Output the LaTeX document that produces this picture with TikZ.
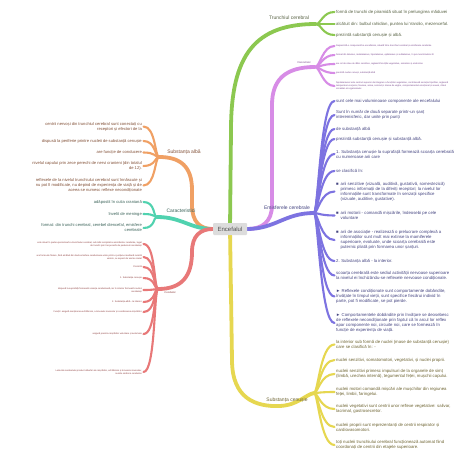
\documentclass[tikz,border=0pt]{standalone}
\usepackage{fontspec}
\setmainfont{Liberation Sans}
\definecolor{cG}{RGB}{140,200,80}
\definecolor{cO}{RGB}{215,140,230}
\definecolor{cB}{RGB}{125,115,225}
\definecolor{cY}{RGB}{230,215,80}
\definecolor{cA}{RGB}{240,160,100}
\definecolor{cT}{RGB}{80,210,175}
\definecolor{cR}{RGB}{232,120,120}
\definecolor{tG}{RGB}{90,100,70}
\definecolor{tO}{RGB}{120,70,140}
\definecolor{tB}{RGB}{70,70,130}
\definecolor{tY}{RGB}{110,100,50}
\definecolor{tA}{RGB}{130,80,55}
\definecolor{tT}{RGB}{60,100,90}
\definecolor{tR}{RGB}{140,60,60}
\definecolor{cC}{RGB}{220,220,220}
\definecolor{tC}{RGB}{80,80,80}
\pgfdeclarelayer{bg}
\pgfsetlayers{bg,main}
\newcommand\bl{\makebox[4.5pt][l]{■}}
\newcommand\ind{\hspace*{4.5pt}}
\begin{document}
\begin{tikzpicture}[x=1pt,y=-1pt,
  br/.style={line width=3.8pt, line cap=round},
  sb/.style={line width=2.1pt, line cap=round},
  itR/.style={anchor=west, align=left, inner sep=0pt, font=\fontsize{4.3}{5}\selectfont},
  itL/.style={anchor=east, align=right, inner sep=0pt, font=\fontsize{4.1}{5}\selectfont},
  tiR/.style={anchor=west, align=left, inner sep=0pt, font=\fontsize{2.3}{2.8}\selectfont},
  tiL/.style={anchor=east, align=right, inner sep=0pt, font=\fontsize{2.3}{3.2}\selectfont},
  lab/.style={inner sep=0pt, font=\fontsize{5}{6}\selectfont},
  tlab/.style={inner sep=0pt, font=\fontsize{2.6}{3}\selectfont}]
\useasboundingbox (0,0) rectangle (474,460);

% centre
\node[fill=cC, text=tC, font=\fontsize{6}{7}\selectfont, minimum width=34pt, minimum height=12pt, inner sep=0pt, rounded corners=1pt] (c) at (230,229) {Encefalul};

% ---------- Trunchiul cerebral (green)
\coordinate (gh) at (316,24);
\node[lab,text=tG] (gl) at (289,18) {Trunchiul cerebral};
\node[itR,text=tG] (g1) at (336,12) {formă de trunchi de piramidă situat în prelungirea măduvei};
\node[itR,text=tG] (g2) at (336,24) {alcătuit din: bulbul rahidian, puntea lui Varolio, mezencefal.};
\node[itR,text=tG] (g3) at (336,35) {prezintă substanță cenușie și albă.};

% ---------- Diencefalul (orchid)
\coordinate (oh) at (315,67);
\node[tlab,text=tO] (ol) at (304,63) {Diencefalul};
\node[tiR,text=tO] (o1) at (336,46) {Reprezintă o componentă a encefalului, situată între trunchiul cerebral și emisferele cerebrale};
\node[tiR,text=tO] (o2) at (336,55) {format din talamus, metatalamus, hipotalamus, epitalamus și subtalamus, în jurul ventriculului III};
\node[tiR,text=tO] (o3) at (336,64) {are rol de releu al căilor senzitive, reglează funcțiile vegetative, somatice și endocrine};
\node[tiR,text=tO] (o4) at (336,73) {prezintă nuclei cenușii, substanță albă};
\node[tiR,text=tO] (o5) at (336,86) {hipotalamusul este centrul superior de integrare a funcțiilor vegetative, controlează secreția hipofizei, reglează\\temperatura corpului, foamea, setea, somnul și starea de veghe, comportamentul emoțional și sexual, ritmul\\circadian al organismului};

% ---------- Emisferele cerebrale (blue)
\coordinate (bh) at (314,213);
\node[lab,text=tB] (bl) at (287,208) {Emisferele cerebrale};
\node[itR,text=tB] (b1) at (336,101) {sunt cele mai voluminoase componente ale encefalului};
\node[itR,text=tB] (b2) at (336,115) {Sunt în număr de două separate printr-un șanț\\interemisferic, dar unite prin punți};
\node[itR,text=tB] (b3) at (336,129) {de substanță albă};
\node[itR,text=tB] (b4) at (336,139) {prezintă substanță cenușie și substanță albă.};
\node[itR,text=tB] (b5) at (336,154) {1. Substanța cenușie la suprafață formează scoarța cerebrală\\cu numeroase arii care};
\node[itR,text=tB] (b6) at (336,171) {se clasifică în:};
\node[itR,text=tB] (b7) at (336,191.5) {\bl arii senzitive (vizuală, auditivă, gustativă, somestezică)\\\ind primesc informații de la diferiți receptori; la nivelul lor\\\ind informațiile sunt transformate în senzații specifice\\\ind (vizuale, auditive, gustative).};
\node[itR,text=tB] (b8) at (336,215.5) {\bl arii motorii - comandă mișcările, îndeosebi pe cele\\\ind voluntare};
\node[itR,text=tB] (b9) at (336,240) {\bl arii de asociație - realizează o prelucrare complexă a\\\ind informațiilor sunt mult mai extinse la mamiferele\\\ind superioare, evoluate, unde scoarța cerebrală este\\\ind puternic pliată prin formarea unor șanțuri.};
\node[itR,text=tB] (b10) at (336,261) {2. Substanța albă - la interior.};
\node[itR,text=tB] (b11) at (336,275.5) {scoarța cerebrală este sediul activității nervoase superioare\\la nivelul ei închizându-se reflexele nervoase condiționale.};
\node[itR,text=tB] (b12) at (336,296.5) {► Reflexele condiționate sunt comportamente dobândite,\\învățate în timpul vieții, sunt specifice fiecărui individ în\\parte, pot fi modificate, se pot pierde.};
\node[itR,text=tB] (b13) at (336,323) {► Comportamentele dobândite prin învățare se deosebesc\\de reflexele necondiționate prin faptul că în arcul lor reflex\\apar componente noi, circuite noi, care se formează în\\funcție de experiența de viață.};

% ---------- Substanța cenușie (yellow)
\coordinate (yh) at (314,393);
\node[lab,text=tY] (yl) at (287,400) {Substanța cenușie};
\node[itR,text=tY] (y1) at (336,344.5) {la interior sub formă de nuclei (mase de substanță cenușie)\\care se clasifică în: -};
\node[itR,text=tY] (y2) at (336,360) {nuclei senzitivi, somatomotori, vegetativi, și nuclei proprii.};
\node[itR,text=tY] (y3) at (336,374) {nucleii senzitivi primesc impulsuri de la organele de simț\\(limbă, urechea internă), tegumentul feței, mușchii capului.};
\node[itR,text=tY] (y4) at (336,392) {nucleii motori comandă mișcări ale mușchilor din regiunea\\feței, limbii, faringelui.};
\node[itR,text=tY] (y5) at (336,409) {nucleii vegetativi sunt centrii unor reflexe vegetative: salivar,\\lacrimal, gastrosecretor.};
\node[itR,text=tY] (y6) at (336,427) {nucleii proprii sunt reprezentanți de centrii respirator și\\cardiovasomotori.};
\node[itR,text=tY] (y7) at (336,445) {toți nucleii trunchiului cerebral funcționează automat fiind\\coordonați de centrii din etajele superioare.};

% ---------- Substanța albă (orange)
\coordinate (ah) at (159,157);
\node[lab,text=tA] (al) at (184,152) {Substanța albă};
\node[itL,text=tA] (a1) at (142,126.5) {centrii nervoși din trunchiul cerebral sunt conectați cu\\receptori și efectori de la};
\node[itL,text=tA] (a2) at (142,141) {dispusă la periferie printre nucleii de substanță cenușie};
\node[itL,text=tA] (a3) at (142,152.5) {are funcție de conducere};
\node[itL,text=tA] (a4) at (142,166) {nivelul capului prin zece perechi de nervi cranieni (din totalul\\de 12).};
\node[itL,text=tA] (a5) at (142,185.5) {reflexele de la nivelul trunchiului cerebral sunt înnăscute și\\nu pot fi modificate, nu depind de experiența de viață și de\\aceea se numesc reflexe necondiționate};

% ---------- Caracteristici (teal)
\coordinate (th) at (157,217);
\node[lab,text=tT] (tl) at (181,211) {Caracteristici};
\node[itL,text=tT] (t1) at (142,202) {adăpostit în cutia craniană};
\node[itL,text=tT] (t2) at (142,214) {învelit de meninge};
\node[itL,text=tT] (t3) at (142,228) {format: din trunchi cerebral, cerebel diencefal, emisfere\\cerebrale};

% ---------- Cerebelul (red)
\coordinate (rh) at (158,289);
\node[tlab,text=tR] (rl) at (170,293) {Cerebelul};
\node[tiL,text=tR] (r1) at (142,244) {este situat în partea posterioară a trunchiului cerebral, sub lobii occipitali ai emisferelor cerebrale, legat\\de trunchi prin trei perechi de pedunculi cerebeloși};
\node[tiL,text=tR] (r2) at (142,257) {are forma de fluture, fiind alcătuit din două emisfere cerebeloase unite printr-o porțiune mediană numită\\vermis, cu aspect de vierme inelat};
\node[tiL,text=tR] (r3) at (142,267) {Prezintă};
\node[tiL,text=tR] (r4) at (142,278) {1. Substanța cenușie};
\node[tiL,text=tR] (r5) at (142,290) {dispusă la suprafață formează scoarța cerebeloasă, iar în interior formează nucleii\\cerebeloși};
\node[tiL,text=tR] (r6) at (142,302) {2. Substanța albă - la interior};
\node[tiL,text=tR] (r7) at (142,312) {Funcții: asigură menținerea echilibrului, a tonusului muscular și coordonarea mișcărilor};
\node[tiL,text=tR] (r8) at (142,334) {asigură precizia mișcărilor voluntare și automate};
\node[tiL,text=tR] (r9) at (142,372) {Leziunile cerebelului produc tulburări ale mișcărilor, echilibrului și tonusului muscular,\\numite sindrom cerebelos};

\begin{pgfonlayer}{bg}
\fill[white] (0,0) rectangle (474,460);
% main branches
\draw[br,cG] (c.center) -- (231,130) .. controls (231,55) and (255,24) .. (gh);
\draw[br,cO] (c.east) .. controls (262,229) and (272,222) .. (272,205) -- (272,105) .. controls (272,80) and (285,67) .. (oh);
\draw[br,cB] (c.east) .. controls (275,229) and (285,213) .. (bh);
\draw[br,cY] (c.center) -- (232,360) .. controls (232,398) and (255,407) .. (280,406) .. controls (298,405) and (305,395) .. (yh);
\draw[br,cA] (c.west) .. controls (200,229) and (192,222) .. (192,205) -- (192,190) .. controls (192,166) and (180,157) .. (ah);
\draw[br,cT] (c.west) .. controls (190,229) and (182,217) .. (th);
\draw[br,cR] (c.west) .. controls (200,229) and (192,236) .. (192,252) .. controls (192,276) and (182,289) .. (rh);
% sub branches
\foreach \n in {g1,g2,g3} \draw[sb,cG] (gh) .. controls +(5,0) and +(-12,0) .. ([xshift=-1.5pt]\n.west);
\foreach \n in {o1,o2,o3,o4,o5} \draw[sb,cO] (oh) .. controls +(5,0) and +(-12,0) .. ([xshift=-1.5pt]\n.west);
\foreach \n in {b1,b2,b3,b4,b5,b6,b7,b8,b9,b10,b11,b12,b13} \draw[sb,cB] (bh) .. controls +(4,0) and +(-14,0) .. ([xshift=-1.5pt]\n.west);
\foreach \n in {y1,y2,y3,y4,y5,y6,y7} \draw[sb,cY] (yh) .. controls +(4,0) and +(-14,0) .. ([xshift=-1.5pt]\n.west);
\foreach \n in {a1,a2,a3,a4,a5} \draw[sb,cA] (ah) .. controls +(-4,0) and +(12,0) .. ([xshift=1.5pt]\n.east);
\foreach \n in {t1,t2,t3} \draw[sb,cT] (th) .. controls +(-4,0) and +(12,0) .. ([xshift=1.5pt]\n.east);
\foreach \n in {r1,r2,r3,r4,r5,r6,r7,r8,r9} \draw[sb,cR] (rh) .. controls +(-4,0) and +(12,0) .. ([xshift=1.5pt]\n.east);
\end{pgfonlayer}
\end{tikzpicture}
\end{document}
